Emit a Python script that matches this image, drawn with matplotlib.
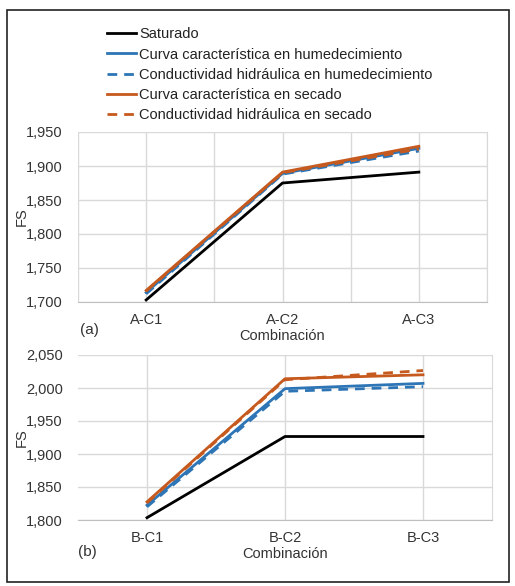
import matplotlib
matplotlib.use("Agg")
import matplotlib.pyplot as plt
from matplotlib.patches import Rectangle
from matplotlib.ticker import FuncFormatter, MultipleLocator

plt.rcParams['font.family'] = ['Liberation Sans', 'DejaVu Sans']
plt.rcParams['font.size'] = 10

# Data
cats_a = ["A-C1", "A-C2", "A-C3"]
cats_b = ["B-C1", "B-C2", "B-C3"]

series_names = [
    "Saturado",
    "Curva característica en humedecimiento",
    "Conductividad hidráulica en humedecimiento",
    "Curva característica en secado",
    "Conductividad hidráulica en secado",
]

sat_a = [1.703, 1.875, 1.891]
cc_hum_a = [1.714, 1.889, 1.926]
k_hum_a = [1.712, 1.888, 1.922]
cc_sec_a = [1.717, 1.891, 1.929]
k_sec_a = [1.716, 1.890, 1.925]

sat_b = [1.8035, 1.9265, 1.9265]
cc_hum_b = [1.8225, 1.999, 2.007]
k_hum_b = [1.820, 1.995, 2.002]
cc_sec_b = [1.8275, 2.014, 2.020]
k_sec_b = [1.826, 2.0125, 2.0265]

black = "#000000"
blue = "#2E75B6"
orange = "#C65A1E"
styles = [
    dict(color=black, ls="-"),
    dict(color=blue, ls="-"),
    dict(color=blue, ls=(0, (3.5, 2.5))),
    dict(color=orange, ls="-"),
    dict(color=orange, ls=(0, (3.5, 2.5))),
]

fig = plt.figure(figsize=(5.15, 5.86), dpi=100)
W, H = 515, 586

def px_axes(left, top, right, bottom):
    return fig.add_axes([left / W, 1 - bottom / H, (right - left) / W, (bottom - top) / H])

ax_a = px_axes(78, 132, 487, 302)
ax_b = px_axes(78, 355, 492, 520)

fmt = FuncFormatter(lambda v, p: f"{v:.3f}".replace(".", ","))

def draw(ax, cats, data, ylo, yhi, half_grid):
    x = list(range(len(cats)))
    # orange drawn last so it sits on top, as in the reference
    order = [0, 2, 1, 4, 3]
    handles = {}
    for i in order:
        h, = ax.plot(x, data[i], lw=2.0, label=series_names[i], **styles[i], zorder=3 + i)
        handles[i] = h
    ax.set_xlim(-0.5, 2.5)
    ax.set_ylim(ylo, yhi)
    ax.yaxis.set_major_locator(MultipleLocator(0.05))
    ax.yaxis.set_major_formatter(fmt)
    ax.set_xticks(x)
    ax.set_xticklabels(cats)
    if half_grid:
        ax.xaxis.set_minor_locator(MultipleLocator(0.5))
        ax.grid(True, which="minor", axis="x", color="#D9D9D9", lw=1)
    ax.grid(True, which="major", color="#D9D9D9", lw=1)
    ax.set_axisbelow(True)
    for s in ["top", "left"]:
        ax.spines[s].set_visible(False)
    ax.spines["right"].set_color("#D9D9D9")
    ax.spines["bottom"].set_color("#BFBFBF")
    ax.tick_params(length=0, colors="#333333", labelsize=10.5)
    ax.tick_params(axis="x", pad=8)
    ax.tick_params(axis="y", pad=11)
    ax.tick_params(which="minor", length=0)
    ax.set_ylabel("FS", fontsize=10.5, color="#333333", va="center")
    ax.set_xlabel("Combinación", fontsize=10.5, color="#333333", labelpad=1)
    ax.yaxis.set_label_coords(-(78 - 22) / ax.bbox.width, 0.5)
    return [handles[i] for i in range(5)]

handles = draw(ax_a, cats_a, [sat_a, cc_hum_a, k_hum_a, cc_sec_a, k_sec_a], 1.700, 1.950, True)
draw(ax_b, cats_b, [sat_b, cc_hum_b, k_hum_b, cc_sec_b, k_sec_b], 1.800, 2.050, False)

fig.text(80 / W, 1 - 330 / H, "(a)", fontsize=11, color="#333333", va="center")
fig.text(78 / W, 1 - 552 / H, "(b)", fontsize=11, color="#333333", va="center")

fig.legend(handles, series_names, loc="upper left", bbox_to_anchor=(100 / W, 1 - 20 / H),
           frameon=False, fontsize=10.5, handlelength=2.0, handletextpad=0.2,
           labelspacing=0.43, borderpad=0, labelcolor="#222222")

fig.patches.append(Rectangle((7 / W, 1 - 582 / H), 502 / W, 572 / H, transform=fig.transFigure,
                             fill=False, edgecolor="#222222", lw=1.2))

fig.savefig("out.png", dpi=100)
